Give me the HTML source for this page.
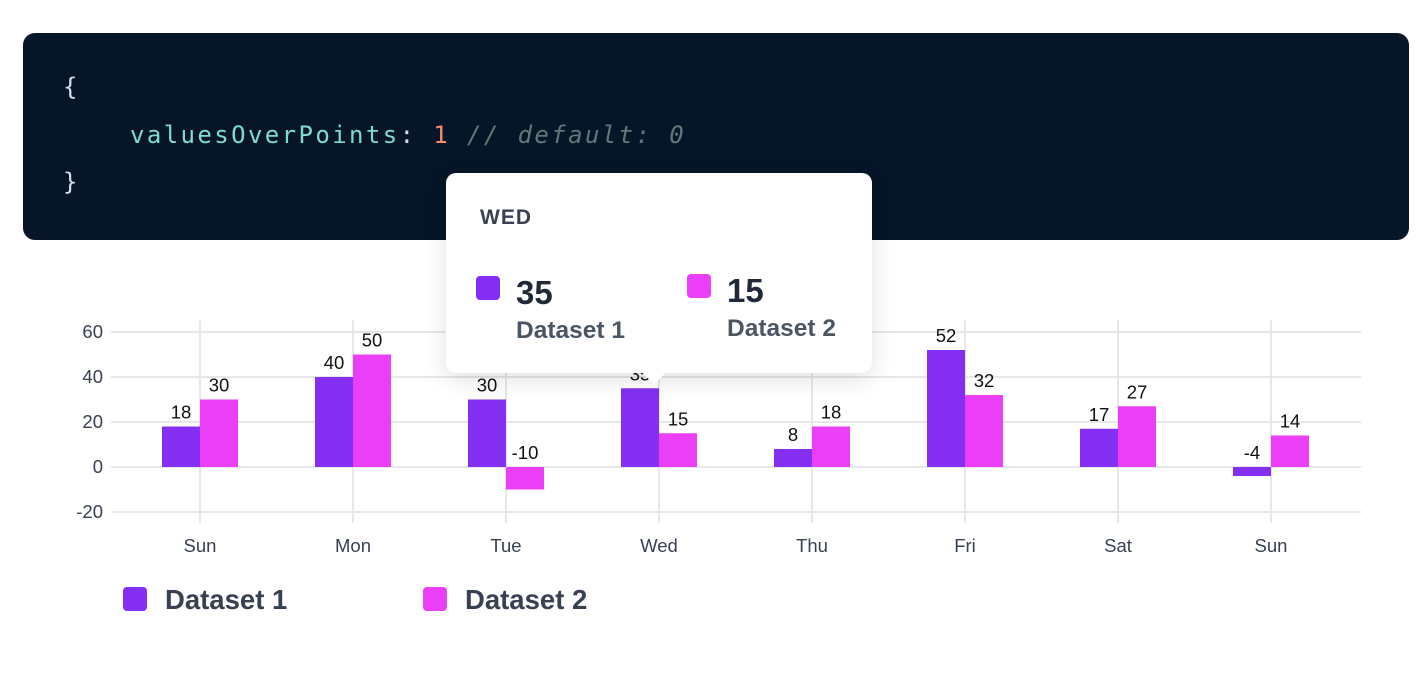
<!DOCTYPE html>
<html><head><meta charset="utf-8"><style>
body{margin:0;width:1416px;height:686px;background:#fff;position:relative;font-family:"Liberation Sans",sans-serif;overflow:hidden}
.code{position:absolute;left:23px;top:33px;width:1386px;height:207px;background:#061628;border-radius:12px;font-family:"DejaVu Sans Mono","Liberation Mono",monospace;font-size:24px;letter-spacing:2.4px;color:#d6deeb}
.code div{position:absolute;white-space:pre}
.tip{position:absolute;left:446px;top:173px;width:426px;height:200px;background:#fff;border-radius:10px;box-shadow:0 6px 24px rgba(0,0,0,0.12)}
.tip .arrow{position:absolute;left:200px;top:192px;width:16px;height:16px;background:#fff;transform:rotate(45deg)}
.sw{position:absolute;width:24px;height:24px;border-radius:4px}
.legend{position:absolute;top:584px;font-size:27.5px;font-weight:bold;color:#374151}
</style></head><body>
<div class="code">
<div style="left:40px;top:40px">{</div>
<div style="left:107px;top:88px"><span style="color:#7fdbca">valuesOverPoints</span>: <span style="color:#f78c6c">1</span> <span style="color:#637777;font-style:italic">// default: 0</span></div>
<div style="left:40px;top:135px">}</div>
</div>
<svg id="chart" width="1416" height="686" style="position:absolute;left:0;top:0"></svg>
<div class="legend">
<div class="sw" style="left:123px;top:3px;background:#842ff2"></div>
<div style="position:absolute;left:165px;top:0;white-space:nowrap">Dataset&nbsp;1</div>
<div class="sw" style="left:423px;top:3px;background:#ea3ef7"></div>
<div style="position:absolute;left:465px;top:0;white-space:nowrap">Dataset&nbsp;2</div>
</div>
<div class="tip">
<div class="arrow"></div>
<div style="position:absolute;left:34px;top:33px;font-size:21px;font-weight:bold;color:#374151;letter-spacing:1px">WED</div>
<div class="sw" style="left:30px;top:103px;background:#842ff2"></div>
<div style="position:absolute;left:70px;top:101px;font-size:33px;font-weight:bold;color:#1f2937">35</div>
<div style="position:absolute;left:70px;top:144px;font-size:24.5px;font-weight:bold;color:#4b5563">Dataset 1</div>
<div class="sw" style="left:241px;top:101px;background:#ea3ef7"></div>
<div style="position:absolute;left:281px;top:99px;font-size:33px;font-weight:bold;color:#1f2937">15</div>
<div style="position:absolute;left:281px;top:142px;font-size:24.5px;font-weight:bold;color:#4b5563">Dataset 2</div>
</div>
<script>
const categories=["Sun","Mon","Tue","Wed","Thu","Fri","Sat","Sun"];
const series1=[18,40,30,35,8,52,17,-4];
const series2=[30,50,-10,15,18,32,27,14];
const yTicks=[60,40,20,0,-20];
const svg=document.getElementById('chart');
const NS='http://www.w3.org/2000/svg';
const x0=111,x1=1361,cx0=200,step=153,bw=38;
const y=v=>467-v*2.25;
const cx=i=>cx0+i*step;
function mk(t,a){const e=document.createElementNS(NS,t);for(const k in a)e.setAttribute(k,a[k]);svg.appendChild(e);return e;}
yTicks.forEach(v=>{
 const l=mk('line',{x1:x0,x2:x1,y1:y(v),y2:y(v),stroke:'#e5e7eb','stroke-width':2});
 
 
 const t=mk('text',{x:103,y:y(v)+6,'text-anchor':'end','font-size':18.5,fill:'#374151'});
 t.textContent=v;
 
 
});
categories.forEach((c,i)=>{
 const l=mk('line',{x1:cx(i),x2:cx(i),y1:320,y2:523,stroke:'#e5e7eb','stroke-width':2});
 
 
 const t=mk('text',{x:cx(i),y:552,'text-anchor':'middle','font-size':18.5,fill:'#374151'});
 t.textContent=c;
 
 
});
[[series1,'#842ff2',-1],[series2,'#ea3ef7',0]].forEach(([s,col,off],si)=>{
 s.forEach((v,i)=>{
  const bx=cx(i)+off*bw;
  const top=Math.min(y(v),y(0)),h=Math.abs(y(v)-y(0));
  const r=mk('rect',{x:bx,y:top,width:bw,height:h,fill:col});
  
  
  const ly=(v>=0?y(v):y(0))-8;
  const t=mk('text',{x:bx+bw/2,y:ly,'text-anchor':'middle','font-size':18.5,fill:'#111'});
  t.textContent=v;
  
  
 });
});
</script>
</body></html>
